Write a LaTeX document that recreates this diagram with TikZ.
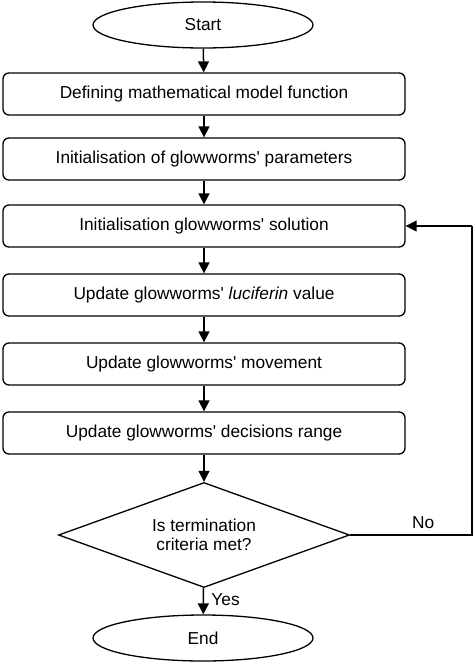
\documentclass[tikz,border=0pt]{standalone}
\usepackage{fontspec}
\setmainfont{Liberation Sans}
\usetikzlibrary{shapes.geometric,arrows.meta}
\newcommand{\apos}{\textquotesingle}
\begin{document}
\begin{tikzpicture}[x=1pt,y=-1pt,
  every node/.style={font=\fontsize{17.3}{19.5}\selectfont},
  procbox/.style={draw,line width=1.3pt,rounded corners=6pt,minimum width=402pt,minimum height=42pt,inner sep=0pt},
  term/.style={draw,line width=1.3pt,ellipse,minimum width=220pt,minimum height=46pt,inner sep=0pt},
  decide/.style={draw,line width=1.3pt,diamond,minimum width=291pt,minimum height=105pt,inner sep=0pt,aspect=2.77,align=center},
  flow/.style={line width=1.5pt,-{Triangle[length=11pt,width=11pt]}},
  lbl/.style={font=\fontsize{17.3}{19.5}\selectfont}]
\useasboundingbox (0,0) rectangle (474,664);
\node[term] (start) at (203,25) {Start};
\node[procbox] (b1) at (204,94) {Defining mathematical model function};
\node[procbox] (b2) at (204,159) {Initialisation of glowworms\apos{} parameters};
\node[procbox] (b3) at (204,226) {Initialisation glowworms\apos{} solution};
\node[procbox] (b4) at (204,295) {Update glowworms\apos{} \textit{luciferin} value};
\node[procbox] (b5) at (204,364) {Update glowworms\apos{} movement};
\node[procbox] (b6) at (204,433) {Update glowworms\apos{} decisions range};
\node[decide] (d) at (204,535) {Is termination\\criteria met?};
\node[term] (end) at (203,638) {End};
\draw[flow] (start) -- (b1);
\draw[flow] (b1) -- (b2);
\draw[flow] (b2) -- (b3);
\draw[flow] (b3) -- (b4);
\draw[flow] (b4) -- (b5);
\draw[flow] (b5) -- (b6);
\draw[flow] (b6) -- (d);
\draw[flow] (d) -- node[lbl,right,xshift=4pt,yshift=2pt] {Yes} (end);
\coordinate (c1) at (472,535);
\coordinate (c2) at (472,226);
\draw[line width=1.3pt] (d.east) -- node[lbl,above,pos=0.6,yshift=2pt] {No} (c1) -- (c2);
\draw[flow] (c2) -- (b3.east);
\end{tikzpicture}
\end{document}
